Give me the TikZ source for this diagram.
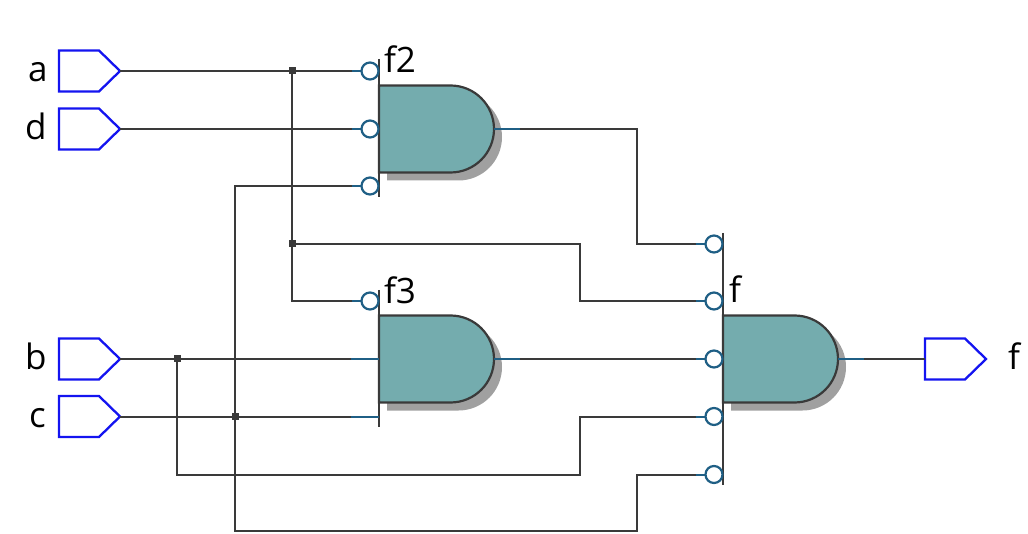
\documentclass[tikz,border=0pt]{standalone}
\usepackage{fontspec}
\setmainfont{Open Sans}
\usetikzlibrary{shapes.symbols,calc}
\definecolor{gatefill}{HTML}{74ACAE}
\definecolor{pinblue}{HTML}{1F5F85}
\definecolor{wiregray}{HTML}{3A3A3A}
\definecolor{shadowgray}{HTML}{A0A0A0}
\definecolor{portblue}{HTML}{1414F0}
\tikzset{
  x=1pt,y=-1pt,
  wire/.style={draw=wiregray,line width=2pt},
  stub/.style={draw=pinblue,line width=2pt},
  bus/.style={draw=wiregray,line width=2.2pt},
  port/.style={signal,signal to=east,signal pointer angle=88.6,draw=portblue,line width=2.3pt,fill=white,
    minimum width=61pt,minimum height=41pt,inner sep=0pt,outer sep=0pt},
  bub/.style={circle,draw=pinblue,line width=2.2pt,fill=white,minimum size=17pt,inner sep=0pt,outer sep=0pt},
  dot/.style={rectangle,fill=wiregray,minimum size=7pt,inner sep=0pt,outer sep=0pt},
  txt/.style={anchor=base west,inner sep=0pt,outer sep=0pt,font=\fontsize{35}{40}\selectfont,text=black},
  gatebody/.style={draw=wiregray,line width=2.2pt,fill=gatefill},
}
\newcommand{\andgate}[3]{% name, left x, centre y
  \fill[shadowgray] (#2+8,#3-35.5) -- (#2+71.5+8,#3-35.5) arc[start angle=90,end angle=-90,x radius=43.5pt,y radius=43.5pt] -- (#2+8,#3+51.5) -- cycle;
  \draw[gatebody] (#2,#3-43.5) -- (#2+71.5,#3-43.5) arc[start angle=90,end angle=-90,x radius=43.5pt,y radius=43.5pt] -- (#2,#3+43.5) -- cycle;
  \coordinate (#1out) at (#2+115,#3);
}
\begin{document}
\begin{tikzpicture}
\useasboundingbox (0,0) rectangle (1028,534);
% ports
\node[port] (a) at (79,71) {};
\node[port] (d) at (79,129) {};
\node[port] (b) at (79,359) {};
\node[port] (c) at (79,416.5) {};
\node[port] (fo) at (945,359) {};
\node[txt] (la) at (28,81.5) {a};
\node[txt] (ld) at (25,139.5) {d};
\node[txt] (lb) at (25,369.5) {b};
\node[txt] (lc) at (29,427.5) {c};
\node[txt] (lfo) at (1008,369.5) {f};
% pin buses
\draw[bus] (379,59) -- (379,197);
\draw[bus] (379,290) -- (379,427);
\draw[bus] (723,233) -- (723,485);
% gates
\andgate{gA}{379}{129}
\andgate{gB}{379}{359}
\andgate{gC}{723}{359}
% bubbles
\node[bub] (p1) at (370,71) {};
\node[bub] (p2) at (370,129) {};
\node[bub] (p3) at (370,186) {};
\node[bub] (p4) at (370,301) {};
\coordinate (p5) at (379,359);
\coordinate (p6) at (379,416.5);
\node[bub] (q1) at (714,244) {};
\node[bub] (q2) at (714,301) {};
\node[bub] (q3) at (714,359) {};
\node[bub] (q4) at (714,416.5) {};
\node[bub] (q5) at (714,474.5) {};
% junctions
\node[dot] (j1) at (292,71) {};
\node[dot] (j2) at (292,244) {};
\node[dot] (j3) at (177,359) {};
\node[dot] (j4) at (235,416.5) {};
% wires
\draw[wire] (a.east) -- (j1) -- (p1.west);
\draw[wire] (d.east) -- (p2.west);
\draw[wire] (p3.west) -- (235,186) -- (j4) -- (235,531) -- (637,531) -- (637,474.5) -- (q5.west);
\draw[wire] (j1) -- (j2) -- (292,301) -- (p4.west);
\draw[wire] (j2) -- (580,244) -- (580,301) -- (q2.west);
\draw[wire] (b.east) -- (j3) -- (p5);
\draw[wire] (c.east) -- (j4) -- (p6);
\draw[wire] (j3) -- (177,474.5) -- (580,474.5) -- (580,416.5) -- (q4.west);
\draw[wire] (gAout) -- (637,129) -- (637,244) -- (q1.west);
\draw[wire] (gBout) -- (q3.west);
\draw[wire] (gCout) -- (fo.west);
% blue pin stubs
\foreach \n in {p1,p2,p3,p4,q1,q2,q3,q4,q5}{\draw[stub] (\n.west) -- ++(-10,0);}
\draw[stub] (p5) -- ++(-28,0);
\draw[stub] (p6) -- ++(-28,0);
\draw[stub] (gAout) -- ++(26,0);
\draw[stub] (gBout) -- ++(26,0);
\draw[stub] (gCout) -- ++(26,0);
% gate labels
\node[txt] (lf2) at (384,72.5) {f2};
\node[txt] (lf3) at (384,303.5) {f3};
\node[txt] (lf) at (729,302.5) {f};
\end{tikzpicture}
\end{document}
